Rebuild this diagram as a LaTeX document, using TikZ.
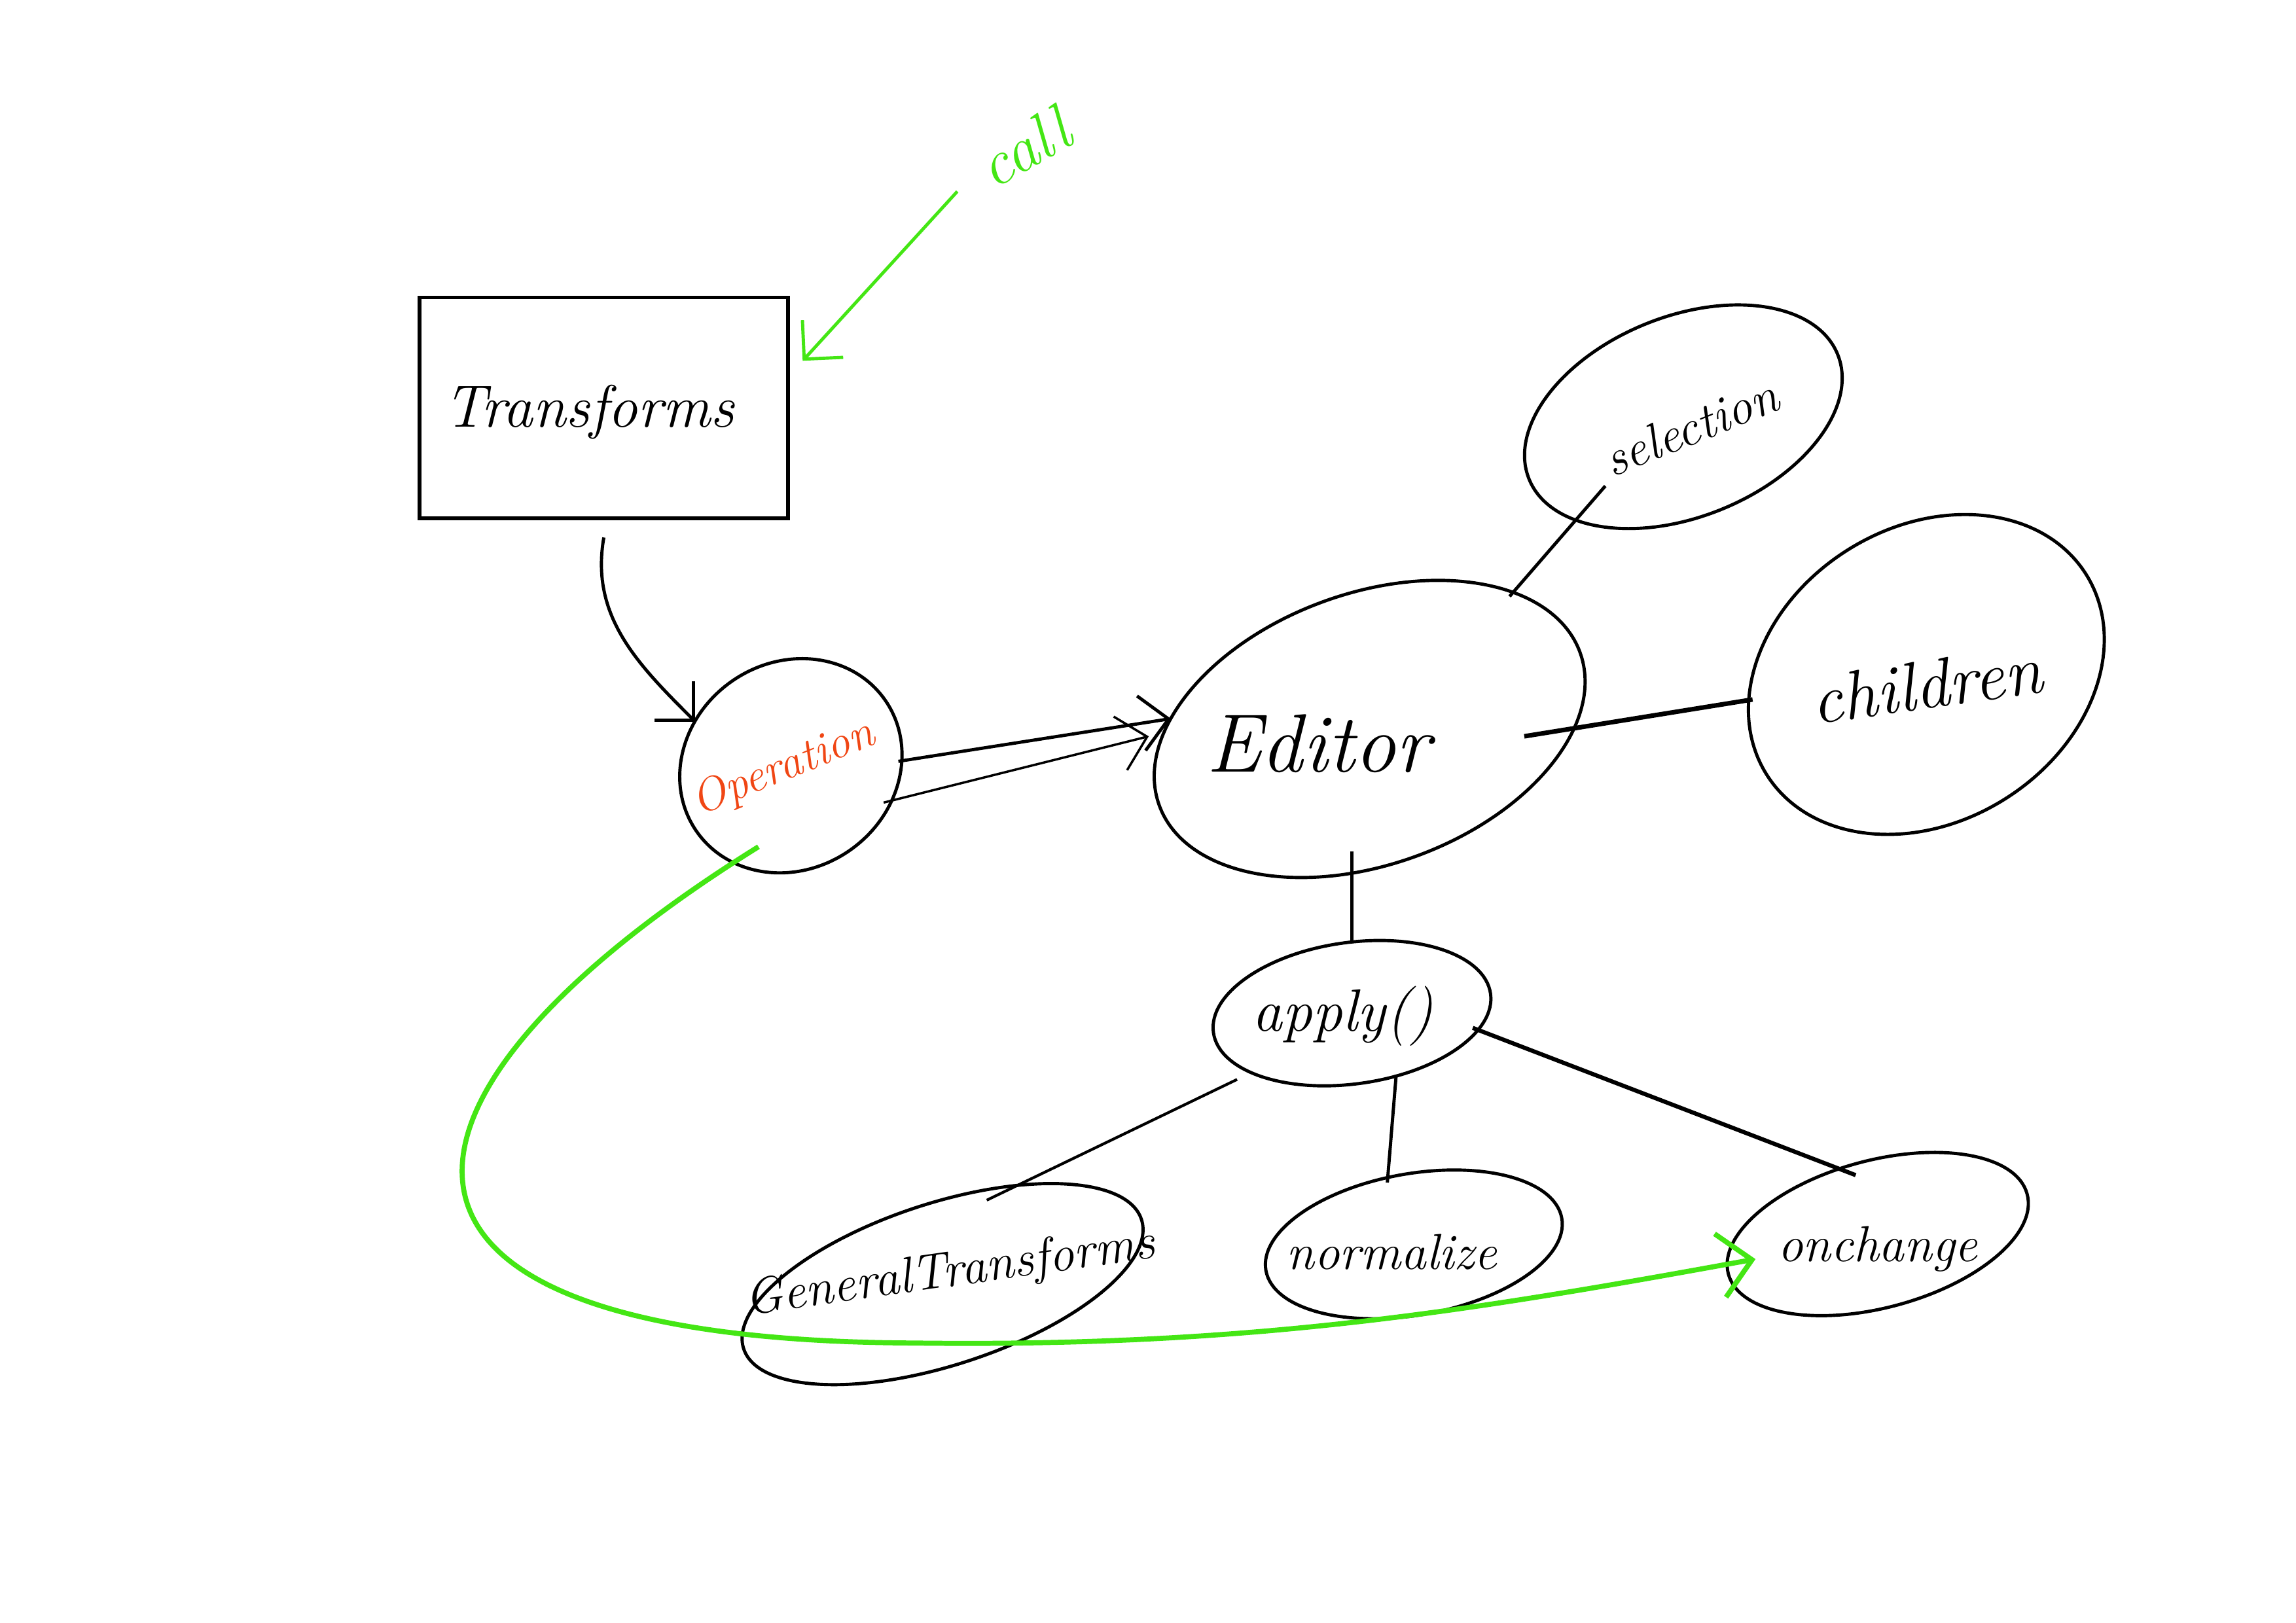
\documentclass[tikz,border=0pt]{standalone}
\usetikzlibrary{arrows.meta}
\definecolor{lime}{RGB}{68,230,20}
\definecolor{opred}{RGB}{240,70,20}
\begin{document}
\begin{tikzpicture}[x=0.0225cm,y=-0.0225cm,
  lbl/.style={font=\itshape\fontsize{26}{26}\selectfont},
  ln/.style={line width=1.4pt},
  gr/.style={draw=lime,line width=2.2pt}]
\path[use as bounding box] (0,0) rectangle (1559,1102);
\node[draw,line width=1.6pt,minimum width=250*0.0225cm,minimum height=150*0.0225cm] (tr) at (410,277) {};
\node[lbl] at (400,280) {Transforms};
\node[text=lime,font=\itshape\fontsize{28}{28}\selectfont,rotate=30] (call) at (695,100) {call};
\coordinate (c1) at (650,130);
\coordinate (c2) at (545,245);
\draw[gr,line width=1.4pt,-{Straight Barb[length=12pt]}] (c1) -- (c2);
\draw[ln,rotate around={35:(537,520)}] (537,520) ellipse (78 and 70);
\node[text=opred,font=\itshape\fontsize{20}{20}\selectfont,rotate=22] (op) at (532,522) {Operation};
\coordinate (t1) at (410,365);
\coordinate (t2) at (472,490);
\draw[ln,-{Straight Barb[length=12pt]}] (t1) to[out=260,in=135] (t2);
\draw[ln,rotate around={20:(930,495)}] (930,495) ellipse (152 and 92);
\node[font=\itshape\fontsize{36}{36}\selectfont] (ed) at (895,505) {Editor};
\coordinate (o1) at (610,517); \coordinate (e1) at (795,488);
\coordinate (o2) at (600,545); \coordinate (e2) at (780,500);
\draw[ln,-{Straight Barb[length=12pt]}] (o1) -- (e1);
\draw[line width=1pt,-{Straight Barb[length=12pt]}] (o2) -- (e2);
\draw[ln,rotate around={22:(1143,283)}] (1143,283) ellipse (113 and 68);
\node[font=\itshape\fontsize{22}{22}\selectfont,rotate=22] (sel) at (1148,290) {selection};
\coordinate (s1) at (1025,405); \coordinate (s2) at (1090,330);
\draw[ln] (s1) -- (s2);
\draw[ln,rotate around={32:(1308,458)}] (1308,458) ellipse (128 and 100);
\node[font=\itshape\fontsize{30}{30}\selectfont,rotate=8] (ch) at (1308,465) {children};
\coordinate (h1) at (1035,500); \coordinate (h2) at (1190,475);
\draw[line width=2pt] (h1) -- (h2);
\draw[ln,rotate around={8:(918,688)}] (918,688) ellipse (95 and 48);
\node[lbl] (ap) at (912,690) {apply()};
\coordinate (a1) at (918,578); \coordinate (a2) at (918,640);
\draw[ln] (a1) -- (a2);
\draw[ln,rotate around={18:(640,872)}] (640,872) ellipse (142 and 55);
\node[font=\itshape\fontsize{22}{22}\selectfont,rotate=8] (gt) at (645,865) {GeneralTransforms};
\draw[ln,rotate around={10:(960,845)}] (960,845) ellipse (102 and 48);
\node[font=\itshape\fontsize{22}{22}\selectfont] (nm) at (945,850) {normalize};
\draw[ln,rotate around={15:(1275,838)}] (1275,838) ellipse (105 and 50);
\node[font=\itshape\fontsize{22}{22}\selectfont] (oc) at (1275,848) {onchange};
\coordinate (g1) at (840,733); \coordinate (g2) at (670,815);
\coordinate (n1) at (948,730); \coordinate (n2) at (942,803);
\coordinate (k1) at (1000,698); \coordinate (k2) at (1260,798);
\draw[line width=1.2pt] (g1) -- (g2);
\draw[ln] (n1) -- (n2);
\draw[line width=1.8pt] (k1) -- (k2);
\coordinate (q1) at (515,575); \coordinate (q2) at (1192,855);
\draw[gr,-{Straight Barb[length=14pt]}] (q1) .. controls (250,740) and (210,910) .. (620,912) .. controls (850,915) and (1000,890) .. (q2);
\end{tikzpicture}
\end{document}
